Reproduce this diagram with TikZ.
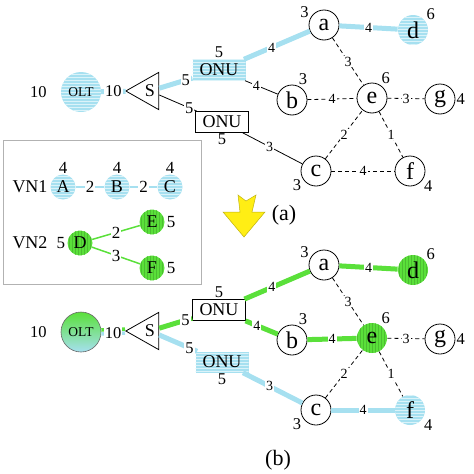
\documentclass[tikz,border=0pt]{standalone}
\usepackage{fontspec}
\setmainfont{Liberation Serif}
\usetikzlibrary{shapes.geometric,patterns}
\definecolor{vnblue}{RGB}{166,224,240}
\definecolor{vngreen}{RGB}{90,224,58}
\definecolor{arrowyellow}{RGB}{255,238,20}
\newcommand{\fsz}[1]{\fontsize{#1}{#1}\selectfont}
\tikzset{
  vertex/.style={circle, draw, line width=0.8pt, minimum size=30pt, inner sep=0pt, font=\fsz{24}},
  vnode/.style={circle, minimum size=25pt, inner sep=0pt, font=\fsz{18}},
  bluefill/.style={fill=vnblue, postaction={pattern=horizontal lines, pattern color=white!60!vnblue}},
  greenfill/.style={fill=vngreen, postaction={pattern=vertical lines, pattern color=vngreen!85!black}},
  onu/.style={rectangle, minimum width=53pt, minimum height=21pt, inner sep=1pt, font=\fsz{18}},
  olt/.style={circle, minimum size=40pt, inner sep=0pt, font=\fsz{13.5}},
  splitter/.style={isosceles triangle, shape border rotate=180, isosceles triangle apex angle=59,
    draw, line width=0.8pt, inner sep=1pt, minimum height=33pt, font=\fsz{18}},
  wt/.style={font=\fsz{16.5}, inner sep=1pt, text=black},
  lbl/.style={fill=white, inner sep=1pt, font=\fsz{14}, text=black},
  vnlbl/.style={fill=white, inner sep=1pt, font=\fsz{17}, text=black},
  blueline/.style={vnblue, line width=5pt},
  greenline/.style={vngreen, line width=5pt},
  plain/.style={black, line width=0.8pt},
  virt/.style={black, line width=0.8pt, dash pattern=on 4pt off 3pt},
}
\begin{document}
\begin{tikzpicture}[x=1pt, y=-1pt]
\useasboundingbox (0,0) rectangle (474,474);
% (a) virtual networks on the substrate
\node[olt, bluefill, label={[wt, label distance=13pt]180:10}] (olt) at (81,92) {OLT};
\node[splitter] (S) at (150,91) {S};
\node[onu, bluefill, label={[wt]90:5}] (onuA) at (219,70) {ONU};
\node[onu, draw, line width=0.8pt, label={[wt]-90:5}] (onuB) at (222,122) {ONU};
\node[vertex, label={[wt]158:3}] (a) at (324,25) {a};
\node[vertex, draw=none, bluefill, label={[wt]37:6}] (d) at (413,30) {d};
\node[vertex, label={[wt]68:3}] (b) at (292,100) {b};
\node[vertex, label={[wt]57:6}] (e) at (372,98) {e};
\node[vertex, label={[wt]0:4}] (g) at (440,99) {g};
\node[vertex, label={[wt]207:3}] (c) at (316,171) {c};
\node[vertex, label={[wt]-33:4}] (f) at (410,171) {f};
\draw[blueline] (olt) -- node[lbl, font=\fsz{16.5}]{10} (S);
\draw[blueline] (S) -- node[lbl, pos=.8, font=\fsz{16.5}]{5} (onuA);
\draw[plain] (S) -- node[lbl, pos=.8, font=\fsz{16.5}]{5} (onuB);
\draw[blueline] (onuA) -- node[lbl, pos=.42]{4} (a);
\draw[blueline] (a) -- node[lbl]{4} (d);
\draw[plain] (onuA) -- node[lbl, pos=.35]{4} (b);
\draw[plain] (onuB) -- node[lbl, pos=.45]{3} (c);
\draw[virt] (a) -- node[lbl]{3} (e);
\draw[virt] (b) -- node[lbl]{4} (e);
\draw[virt] (e) -- node[lbl]{3} (g);
\draw[virt] (c) -- node[lbl]{2} (e);
\draw[virt] (e) -- node[lbl]{1} (f);
\draw[virt] (c) -- node[lbl]{4} (f);
% requests
\draw[gray!60, line width=0.8pt] (3,140) rectangle (201,284);
\node[font=\fsz{18}] (vnone) at (30,187) {VN1};
\node[vnode, bluefill, label={[wt, font=\fsz{17}]90:4}] (A) at (63,187) {A};
\node[vnode, bluefill, label={[wt, font=\fsz{17}]90:4}] (B) at (117,187) {B};
\node[vnode, bluefill, label={[wt, font=\fsz{17}]90:4}] (C) at (170,187) {C};
\draw[vnblue, line width=1.5pt] (A) -- node[vnlbl]{2} (B) -- node[vnlbl]{2} (C);
\node[font=\fsz{18}] (vntwo) at (30,243) {VN2};
\node[vnode, greenfill, label={[wt, font=\fsz{17}, label distance=1pt]180:5}] (D) at (80,243) {D};
\node[vnode, greenfill, label={[wt, font=\fsz{17}, label distance=1pt]0:5}] (E) at (152,222) {E};
\node[vnode, greenfill, label={[wt, font=\fsz{17}, label distance=1pt]0:5}] (F) at (152,268) {F};
\draw[vngreen, line width=1.5pt] (D) -- node[vnlbl]{2} (E);
\draw[vngreen, line width=1.5pt] (D) -- node[vnlbl]{3} (F);
% mapping arrow
\filldraw[fill=arrowyellow, draw=arrowyellow!75!black, line width=0.5pt]
  (238,195) -- (246,201) -- (256,195) -- (252,212) -- (265,212)
  -- (244,237) -- (223,212) -- (240,212) -- cycle;
\node[font=\fsz{22}] (capa) at (284,215) {(a)};
% (b) after embedding
\node[olt, draw=gray!80!black, line width=0.6pt, top color=vngreen, bottom color=vnblue,
  label={[wt, label distance=13pt]180:10}] (olt2) at (81,332) {OLT};
\node[splitter] (S2) at (150,331) {S};
\node[onu, draw, line width=0.8pt, label={[wt]90:5}] (onuA2) at (219,310) {ONU};
\node[onu, bluefill, label={[wt]-90:5}] (onuB2) at (222,362) {ONU};
\node[vertex, label={[wt]158:3}] (a2) at (324,265) {a};
\node[vertex, draw=none, greenfill, label={[wt]37:6}] (d2) at (413,270) {d};
\node[vertex, label={[wt]68:3}] (b2) at (292,340) {b};
\node[vertex, draw=none, greenfill, label={[wt]57:6}] (e2) at (372,338) {e};
\node[vertex, label={[wt]0:4}] (g2) at (440,339) {g};
\node[vertex, label={[wt]207:3}] (c2) at (316,410) {c};
\node[vertex, draw=none, bluefill, label={[wt]-33:4}] (f2) at (410,410) {f};
\draw[greenline, line width=3.5pt] ([yshift=2pt]olt2.east) -- ([yshift=2pt]S2.apex);
\draw[blueline, line width=3.5pt] ([yshift=-2pt]olt2.east) -- node[lbl, font=\fsz{16.5}]{10} ([yshift=-2pt]S2.apex);
\draw[greenline] (S2) -- node[lbl, pos=.8, font=\fsz{16.5}]{5} (onuA2);
\draw[blueline] (S2) -- node[lbl, pos=.8, font=\fsz{16.5}]{5} (onuB2);
\draw[greenline] (onuA2) -- node[lbl, pos=.42]{4} (a2);
\draw[greenline] (a2) -- node[lbl]{4} (d2);
\draw[greenline] (onuA2) -- node[lbl, pos=.35]{4} (b2);
\draw[greenline] (b2) -- node[lbl]{4} (e2);
\draw[blueline] (onuB2) -- node[lbl, pos=.45]{3} (c2);
\draw[blueline] (c2) -- node[lbl]{4} (f2);
\draw[virt] (a2) -- node[lbl]{3} (e2);
\draw[virt] (e2) -- node[lbl]{3} (g2);
\draw[virt] (c2) -- node[lbl]{2} (e2);
\draw[virt] (e2) -- node[lbl]{1} (f2);
\node[font=\fsz{22}] (capb) at (278,460) {(b)};
\end{tikzpicture}
\end{document}
